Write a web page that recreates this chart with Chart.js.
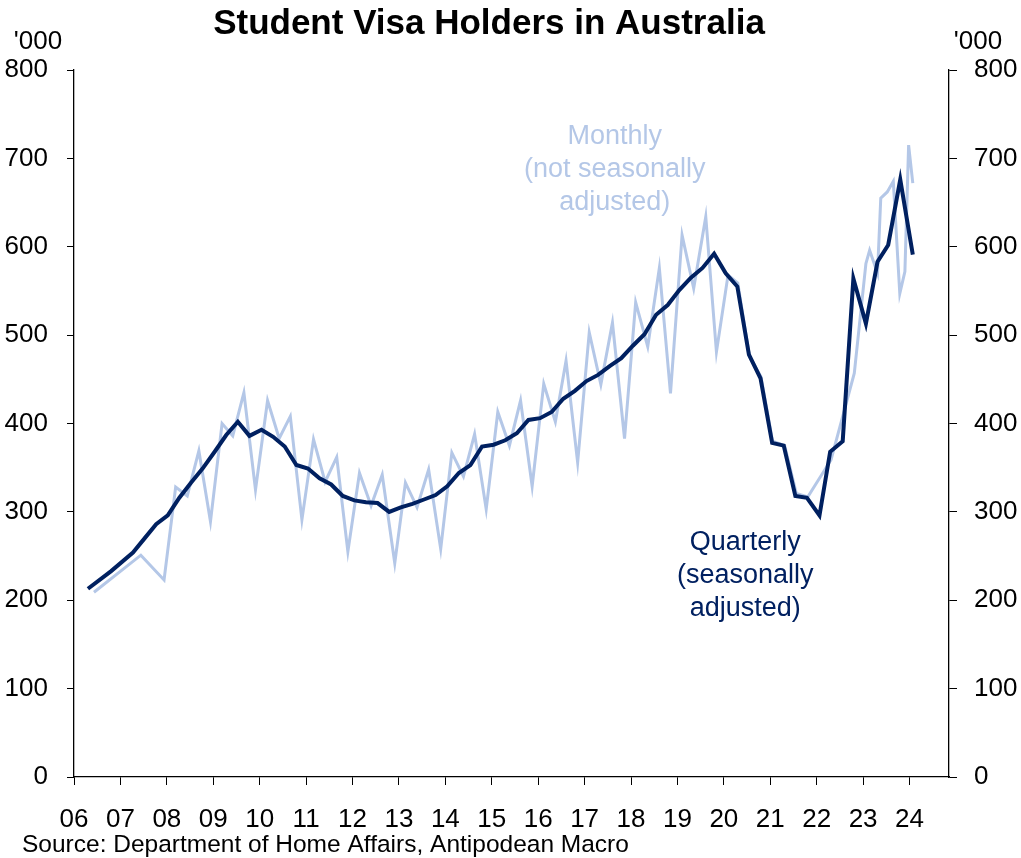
<!DOCTYPE html>
<html>
<head>
<meta charset="utf-8">
<script src="https://cdn.jsdelivr.net/npm/chart.js@4/dist/chart.umd.min.js"></script>
<style>
  html, body { margin: 0; padding: 0; background: #fff; }
  #wrap { width: 1021px; height: 858px; }
</style>
</head>
<body>
<div id="wrap"><canvas id="chart" width="1021" height="858"></canvas></div>
<script>
// decimal years (06 = 2006) and '000 holders
const qtrDates = [6.30, 6.80, 7.27, 7.52, 7.77, 8.02, 8.27, 8.52, 8.77, 9.03, 9.28, 9.53, 9.78,
  10.04, 10.29, 10.54, 10.79, 11.04, 11.29, 11.54, 11.79, 12.04, 12.29, 12.54, 12.79,
  13.04, 13.29, 13.54, 13.79, 14.04, 14.29, 14.54, 14.79, 15.04, 15.29, 15.54, 15.79,
  16.04, 16.29, 16.54, 16.79, 17.04, 17.29, 17.54, 17.79, 18.04, 18.29, 18.54, 18.79,
  19.04, 19.29, 19.54, 19.79, 20.04, 20.29, 20.54, 20.79, 21.04, 21.29, 21.54, 21.79,
  22.06, 22.29, 22.56, 22.79, 23.06, 23.31, 23.54, 23.80, 24.07];
const qtrValues = [213, 233, 254, 270, 286, 296, 316, 333, 349, 368, 387, 402, 386,
  393, 385, 374, 353, 349, 338, 331, 318, 313, 311, 310, 300,
  305, 309, 314, 319, 329, 344, 353, 374, 376, 381, 389, 404,
  406, 413, 428, 437, 448, 455, 465, 474, 488, 501, 523, 534,
  551, 565, 576, 592, 570, 555, 478, 451, 378, 375, 318, 316,
  296, 368, 380, 564, 513, 583, 602, 676, 591];

const monDates = [6.43, 7.44, 7.94, 8.19, 8.44, 8.69, 8.94, 9.19, 9.42, 9.66, 9.91,
  10.17, 10.42, 10.66, 10.91, 11.16, 11.41, 11.66, 11.90, 12.15, 12.40, 12.64, 12.91,
  13.14, 13.39, 13.64, 13.90, 14.14, 14.39, 14.63, 14.88, 15.13, 15.38, 15.62, 15.87,
  16.12, 16.37, 16.60, 16.85, 17.10, 17.35, 17.60, 17.86, 18.10, 18.36, 18.61, 18.85,
  19.10, 19.35, 19.61, 19.84, 20.09, 20.30, 20.55, 20.80, 21.05, 21.31, 21.56, 21.81,
  22.31, 22.81, 23.06, 23.14, 23.31, 23.38, 23.52, 23.65, 23.79, 23.90, 23.98, 24.07];
const monValues = [209, 251, 223, 328, 318, 369, 289, 400, 386, 435, 325,
  426, 383, 408, 291, 382, 334, 362, 255, 344, 307, 342, 242,
  333, 305, 348, 258, 367, 340, 388, 303, 413, 375, 426, 329,
  445, 402, 471, 356, 503, 444, 514, 383, 537, 487, 576, 434,
  613, 553, 634, 481, 568, 559, 476, 453, 380, 375, 321, 317,
  359, 457, 581, 596, 570, 655, 662, 674, 547, 572, 715, 672];

const yTicks = [0, 100, 200, 300, 400, 500, 600, 700, 800];
const yearTicks = [6, 7, 8, 9, 10, 11, 12, 13, 14, 15, 16, 17, 18, 19, 20, 21, 22, 23, 24];

const chartTitle = 'Student Visa Holders in Australia';
const sourceText = 'Source: Department of Home Affairs, Antipodean Macro';
const unitLabel = "'000";
const monthlyNote = ['Monthly', '(not seasonally', 'adjusted)'];
const quarterlyNote = ['Quarterly', '(seasonally', 'adjusted)'];

const DARK = '#002060';
const LIGHT = '#B4C7E7';
const FONT = "Arial, 'Liberation Sans', sans-serif";

const pts = (xs, ys) => xs.map((x, i) => ({ x: x, y: ys[i] }));

// extra text: title, units, notes, source
const textPlugin = {
    id: 'texts',
    afterDraw(chart) {
        const ctx = chart.ctx;
        const x = chart.scales.x, y = chart.scales.y;
        ctx.save();
        ctx.textBaseline = 'alphabetic';

        ctx.fillStyle = '#000';
        ctx.textAlign = 'center';
        ctx.font = 'bold 35px ' + FONT;
        ctx.fillText(chartTitle, 489, 34);

        ctx.font = '26px ' + FONT;
        ctx.fillText(unitLabel, 38, 49);
        ctx.fillText(unitLabel, 978, 49);

        ctx.textAlign = 'left';
        ctx.font = '24.5px ' + FONT;
        ctx.fillText(sourceText, 22, 852);

        ctx.textAlign = 'center';
        ctx.font = '27px ' + FONT;
        ctx.fillStyle = LIGHT;
        monthlyNote.forEach((t, i) => ctx.fillText(t, x.getPixelForValue(17.65), y.getPixelForValue(716) + i * 33));
        ctx.fillStyle = DARK;
        quarterlyNote.forEach((t, i) => ctx.fillText(t, x.getPixelForValue(20.46), y.getPixelForValue(257) + i * 33));
        ctx.restore();
    }
};

const tickFont = { family: FONT, size: 26 };

new Chart(document.getElementById('chart').getContext('2d'), {
    type: 'line',
    data: {
        datasets: [
            {
                label: 'Quarterly (seasonally adjusted)',
                data: pts(qtrDates, qtrValues),
                borderColor: DARK,
                borderWidth: 4,
                pointRadius: 0,
                tension: 0,
                fill: false,
                yAxisID: 'y'
            },
            {
                label: 'Monthly (not seasonally adjusted)',
                data: pts(monDates, monValues),
                borderColor: LIGHT,
                borderWidth: 3,
                pointRadius: 0,
                tension: 0,
                fill: false,
                yAxisID: 'y'
            }
        ]
    },
    options: {
        responsive: false,
        animation: false,
        layout: { padding: { top: 70, left: 0, right: 0, bottom: 0 } },
        plugins: {
            legend: { display: false },
            tooltip: { enabled: false },
            title: { display: false }
        },
        scales: {
            x: {
                type: 'linear',
                min: 6,
                max: 24.85,
                afterFit: s => { s.height = 81; },
                afterBuildTicks: s => { s.ticks = yearTicks.map(v => ({ value: v })); },
                ticks: {
                    color: '#000',
                    font: tickFont,
                    padding: 19,
                    maxRotation: 0,
                    autoSkip: false,
                    includeBounds: false,
                    callback: v => String(v).padStart(2, '0')
                },
                grid: { drawOnChartArea: false, drawTicks: true, tickLength: 8, color: '#000', lineWidth: 1 },
                border: { display: true, color: '#000', width: 1.3 }
            },
            y: {
                position: 'left',
                min: 0,
                max: 800,
                afterFit: s => { s.width = 74; },
                afterBuildTicks: s => { s.ticks = yTicks.map(v => ({ value: v })); },
                ticks: { color: '#000', font: tickFont, padding: 19 },
                grid: { drawOnChartArea: false, drawTicks: true, tickLength: 7, color: '#000', lineWidth: 1 },
                border: { display: true, color: '#000', width: 1.3 }
            },
            y2: {
                position: 'right',
                min: 0,
                max: 800,
                afterFit: s => { s.width = 72; },
                afterBuildTicks: s => { s.ticks = yTicks.map(v => ({ value: v })); },
                ticks: { color: '#000', font: tickFont, padding: 17 },
                grid: { drawOnChartArea: false, drawTicks: true, tickLength: 8, color: '#000', lineWidth: 1 },
                border: { display: true, color: '#000', width: 1.3 }
            }
        }
    },
    plugins: [textPlugin]
});
</script>
</body>
</html>
